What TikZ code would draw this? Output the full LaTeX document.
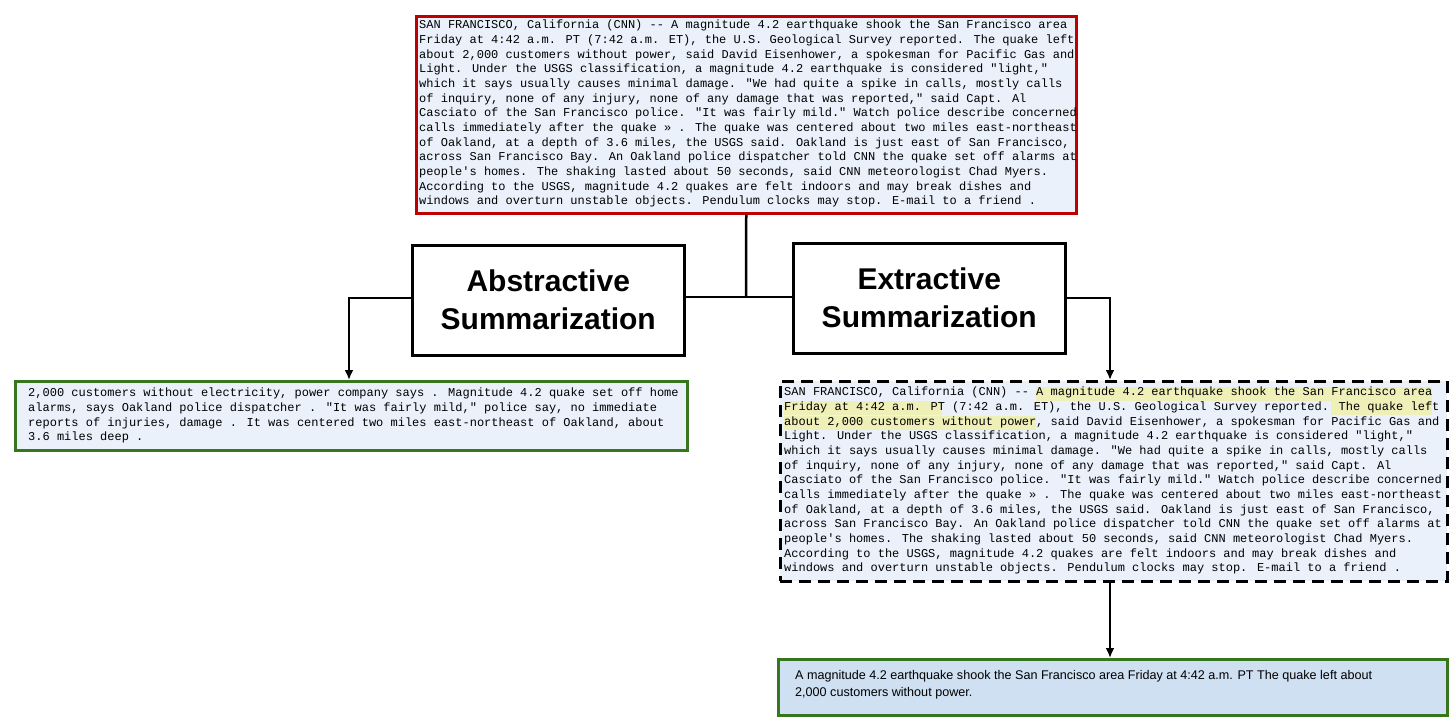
\documentclass[tikz,border=0pt]{standalone}
\usepackage{fontspec}
\setmainfont{Liberation Sans}
\newfontfamily\monof{Liberation Mono}
\definecolor{redb}{HTML}{C00000}
\definecolor{greenb}{HTML}{38761D}
\definecolor{lblue}{HTML}{EAF1FB}
\definecolor{mblue}{HTML}{CFE0F3}
\definecolor{hl}{HTML}{EEF0B8}
\begin{document}
\begin{tikzpicture}[x=1pt,y=-1pt,
  mono/.style={font=\monof\fontsize{12}{14.67}\selectfont,align=left,inner sep=0pt,anchor=north west},
  title/.style={draw,line width=2.5pt,fill=white,font=\bfseries\fontsize{30}{38}\selectfont,align=center,minimum width=272pt,minimum height=110pt},
  arr/.style={line width=2.5pt,-{Latex[length=10pt,width=9pt]}},
  ln/.style={line width=2.5pt}]
\useasboundingbox (0,0) rectangle (1456,724);
\usetikzlibrary{arrows.meta}
% top box
\node[draw=redb,line width=2.5pt,fill=lblue,minimum width=660pt,minimum height=197pt,anchor=north west,inner sep=0pt] (top) at (415,15) {};
\node[mono] (toptext) at (419,20) {SAN FRANCISCO, California (CNN) -- A magnitude 4.2 earthquake shook the San Francisco area\\Friday at 4:42 a.m. PT (7:42 a.m. ET), the U.S. Geological Survey reported. The quake left\\about 2,000 customers without power, said David Eisenhower, a spokesman for Pacific Gas and\\Light. Under the USGS classification, a magnitude 4.2 earthquake is considered "light,"\\which it says usually causes minimal damage. "We had quite a spike in calls, mostly calls\\of inquiry, none of any injury, none of any damage that was reported," said Capt. Al\\Casciato of the San Francisco police. "It was fairly mild." Watch police describe concerned\\calls immediately after the quake » . The quake was centered about two miles east-northeast\\of Oakland, at a depth of 3.6 miles, the USGS said. Oakland is just east of San Francisco,\\across San Francisco Bay. An Oakland police dispatcher told CNN the quake set off alarms at\\people's homes. The shaking lasted about 50 seconds, said CNN meteorologist Chad Myers.\\According to the USGS, magnitude 4.2 quakes are felt indoors and may break dishes and\\windows and overturn unstable objects. Pendulum clocks may stop. E-mail to a friend .};
% titles
\node[title,anchor=north west] (abs) at (411,244) {Abstractive\\Summarization};
\node[title,anchor=north west] (ext) at (792,242) {Extractive\\Summarization};
\coordinate (j) at (top.south -| 746,0);
\coordinate (jm) at (746,297);
\draw[ln] (top.south) -- (jm);
\draw[ln] (abs.east |- jm) -- (ext.west |- jm);
% abstractive summary
\node[draw=greenb,line width=2.5pt,fill=lblue,minimum width=672pt,minimum height=69pt,anchor=north west,inner sep=0pt] (absum) at (14,380) {};
\node[mono] (abstext) at (28,388) {2,000 customers without electricity, power company says . Magnitude 4.2 quake set off home\\alarms, says Oakland police dispatcher . "It was fairly mild," police say, no immediate\\reports of injuries, damage . It was centered two miles east-northeast of Oakland, about\\3.6 miles deep .};
\coordinate (al) at (349,298);
\draw[arr] (abs.west |- al) -- (al) -- (absum.north -| al);
% extractive
\node[draw,dashed,dash pattern=on 12pt off 7pt,line width=2.5pt,fill=lblue,minimum width=667pt,minimum height=200pt,anchor=north west,inner sep=0pt] (exs) at (779,380) {};
\fill[hl] (1036,386.5) rectangle (1432,400.5);
\fill[hl] (784,401) rectangle (942.4,415);
\fill[hl] (1331.2,401) rectangle (1432,415);
\fill[hl] (784,415.5) rectangle (1036,429.5);
\node[mono] (extext) at (784,387) {SAN FRANCISCO, California (CNN) -- A magnitude 4.2 earthquake shook the San Francisco area\\Friday at 4:42 a.m. PT (7:42 a.m. ET), the U.S. Geological Survey reported. The quake left\\about 2,000 customers without power, said David Eisenhower, a spokesman for Pacific Gas and\\Light. Under the USGS classification, a magnitude 4.2 earthquake is considered "light,"\\which it says usually causes minimal damage. "We had quite a spike in calls, mostly calls\\of inquiry, none of any injury, none of any damage that was reported," said Capt. Al\\Casciato of the San Francisco police. "It was fairly mild." Watch police describe concerned\\calls immediately after the quake » . The quake was centered about two miles east-northeast\\of Oakland, at a depth of 3.6 miles, the USGS said. Oakland is just east of San Francisco,\\across San Francisco Bay. An Oakland police dispatcher told CNN the quake set off alarms at\\people's homes. The shaking lasted about 50 seconds, said CNN meteorologist Chad Myers.\\According to the USGS, magnitude 4.2 quakes are felt indoors and may break dishes and\\windows and overturn unstable objects. Pendulum clocks may stop. E-mail to a friend .};
\coordinate (ar) at (1110,298);
\draw[arr] (ext.east |- ar) -- (ar) -- (exs.north -| ar);
% final
\node[draw=greenb,line width=2.5pt,fill=mblue,minimum width=669pt,minimum height=56pt,anchor=north west,inner sep=0pt] (fin) at (777,658) {};
\node[font=\fontsize{12.6}{17}\selectfont,align=left,inner sep=0pt,anchor=north west] (fintext) at (795,670) {A magnitude 4.2 earthquake shook the San Francisco area Friday at 4:42 a.m. PT The quake left about\\2,000 customers without power.};
\draw[arr] (exs.south -| ar) -- (fin.north -| ar);
\end{tikzpicture}
\end{document}
